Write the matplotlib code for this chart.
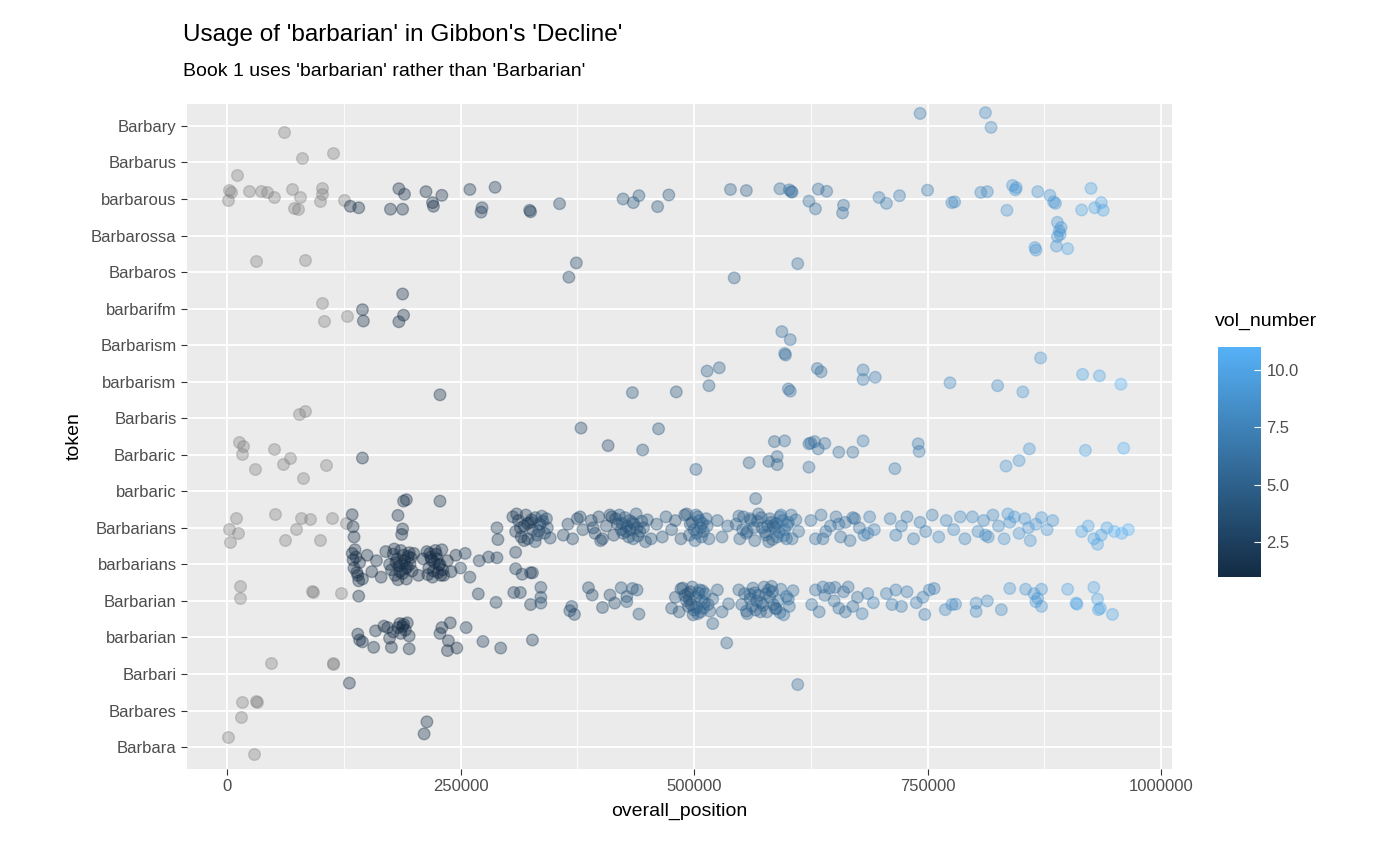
import numpy as np
import matplotlib
matplotlib.use("Agg")
import matplotlib.pyplot as plt
from matplotlib.colors import LinearSegmentedColormap, Normalize

plt.rcParams['font.family'] = ['Liberation Sans', 'DejaVu Sans']

# tokens, bottom to top
tokens = ["Barbara", "Barbares", "Barbari", "barbarian", "Barbarian", "barbarians",
          "Barbarians", "barbaric", "Barbaric", "Barbaris", "barbarism", "Barbarism",
          "barbarifm", "Barbaros", "Barbarossa", "barbarous", "Barbarus", "Barbary"]

# points per token: (overall_position in thousands, vertical jitter)
barbara = [(211, .36), (1, .27), (29, -.18)]
barbares = [(16, .22), (31, .25), (32, .22), (15, -.17), (214, -.31)]
barbari = [(47, .29), (113, .29), (114, .27), (131, -.25), (611, -.29)]
barbarian_lc = [(140, .09), (142, -.07), (145, -.12), (157, -.27), (159, .18), (168, .31), (172, .27),
                (174, -.02), (176, -.27), (183, .27), (186, .11), (189, .36), (193, .4), (195, .04),
                (195, -.31), (228, .11), (230, .27), (237, -.09), (239, .4), (236, -.36), (246, -.29),
                (256, .27), (274, -.11), (293, -.29), (327, -.07), (520, .38), (535, -.15),
                (188, .3), (191, .2), (185, .38), (178, .15)]
barbarian_uc = [(14, .4), (14, .07), (91, .27), (92, .25), (122, .23), (141, .13),
                (269, .19), (288, -.04), (307, .23), (314, .23), (336, .37), (336, .1), (325, -.1),
                (336, -.06), (367, -.27), (372, -.37), (369, -.15), (387, .36), (391, .16), (402, -.18),
                (410, .16), (415, -.06), (422, .36), (428, -.02), (434, .34), (439, .3), (441, -.36),
                (428, .12),
                (476, -.2), (480, .1), (484, -.3), (488, .35), (492, 0), (494, -.15), (496, .25),
                (498, .38), (500, -.25), (502, .1), (504, -.35), (506, .3), (508, 0), (510, -.2),
                (512, .2), (515, -.1), (520, .05), (525, .3), (530, -.3), (537, -.08), (490, .15),
                (499, -.38), (505, .22), (511, -.05), (486, .33), (517, -.28),
                (493, .2), (497, -.1), (503, -.18), (509, .28), (495, .05), (507, -.3),
                (548, .3), (551, -.1), (554, .2), (557, -.35), (560, .05), (563, .35), (566, -.25),
                (569, .15), (572, -.05), (575, .38), (578, -.3), (581, .1), (584, .25), (587, -.2),
                (590, 0), (593, .32), (596, -.38), (599, .12), (602, -.15), (606, .28), (556, -.28),
                (565, .22), (574, -.12), (583, .4), (592, -.32), (601, .05), (560, .18), (588, -.22),
                (567, .0), (577, .2), (585, -.1), (571, -.3), (580, .3), (562, -.15),
                (626, -.1), (630, .3), (634, -.3), (640, .15), (645, .35), (650, 0), (655, -.2),
                (660, .25), (665, .38), (670, -.15), (675, .1), (680, -.35), (686, .2), (692, -.05),
                (638, .38), (662, -.3), (651, .37),
                (706, .2), (712, -.1), (716, .3), (722, -.15), (728, .25), (738, -.05), (745, .1),
                (752, .3), (747, -.37), (757, .34),
                (769, -.24), (776, -.1), (780, -.09), (802, -.06), (802, -.29), (814, 0), (829, -.24),
                (838, .34), (855, .32), (864, .2), (866, -.02), (868, .07), (872, -.15), (872, .32),
                (900, .32), (909, -.06), (910, -.09), (928, .37), (932, .05), (933, -.24), (935, -.2),
                (948, -.37)]
barbarians_lc = [(134, .3), (136, -.1), (138, .2), (140, -.3), (142, .05), (145, -.4), (150, .25),
                 (155, -.2), (160, .1), (165, -.35), (170, .35), (174, 0), (176, -.15), (178, .28),
                 (180, -.3), (182, .15), (184, -.05), (186, .38), (188, -.25), (190, .1), (192, -.4),
                 (194, .22), (196, 0), (198, -.18), (200, .3), (205, -.3), (210, .15), (214, .35),
                 (216, -.1), (218, .2), (220, -.35), (222, .05), (224, .28), (226, -.22), (228, 0),
                 (230, .4), (232, -.3), (236, .1), (240, -.2), (245, .25), (250, -.1), (255, .3),
                 (260, -.35), (270, .1), (280, .2), (137, .4), (141, -.45), (179, .42), (183, -.42),
                 (187, .02), (191, -.12), (195, .32), (215, -.28), (219, .12), (223, .38),
                 (227, -.02), (231, -.15), (289, .18), (309, .33), (309, -.12), (316, -.27),
                 (325, -.23), (327, -.23),
                 (135, .12), (139, -.22), (181, .05), (185, -.2), (189, .25), (193, -.08),
                 (197, .18), (217, .3), (221, -.18), (225, .15), (229, -.3)]
barbarians_uc = [(10, .27), (2, -.03), (12, -.14), (3, -.39), (51, .39), (62, -.32), (74, -.03),
                 (79, .27), (89, .25), (100, -.33), (112, .27), (127, .14), (134, .36), (135, .03),
                 (136, -.25), (183, .34), (188, -.03), (187, -.18), (289, 0), (290, -.32),
                 (306, .3), (309, -.1), (312, .2), (315, -.25), (318, .05), (320, .35), (322, -.3),
                 (325, .15), (327, -.05), (330, .28), (332, -.2), (335, .1), (337, .32), (340, -.15),
                 (343, 0), (346, -.28), (310, .38), (318, -.35), (326, .22), (334, -.08), (342, .25),
                 (314, 0), (322, .12), (330, -.38), (338, .18),
                 (360, -.2), (365, .1), (370, -.3), (375, .25), (381, -.05), (378, .3),
                 (390, .2), (394, -.15), (398, .3), (402, -.3), (406, .05), (410, .35), (414, -.2),
                 (418, .1), (422, -.05), (426, .28), (430, -.25), (434, .15), (438, .38), (442, -.1),
                 (446, 0), (450, .22), (454, -.3), (400, -.35), (412, .3), (424, -.15), (436, .1),
                 (448, -.38), (416, .25), (428, .05), (440, -.22), (392, 0), (420, .35), (444, .18),
                 (427, -.1), (431, .2), (435, -.3), (423, .12), (439, 0), (432, -.05),
                 (460, .1), (466, -.25), (470, .3), (476, -.05), (480, .2), (486, -.3), (490, .35),
                 (492, .38), (495, -.2), (498, .15), (501, -.35), (504, .3), (507, 0), (510, -.1),
                 (513, .25), (516, -.3), (496, .1), (502, .35), (508, -.25), (514, .05), (500, -.05),
                 (506, .2), (525, .2), (530, -.25), (536, .05), (503, -.15), (509, .12),
                 (545, .1), (549, -.3), (553, .3), (557, -.1), (561, .2), (565, -.35), (569, .38),
                 (573, 0), (577, -.2), (581, .25), (585, .05), (589, -.25), (593, .35), (597, -.05),
                 (601, .15), (605, -.3), (609, .22), (612, -.1), (548, .32), (556, -.15), (564, 0),
                 (572, .28), (580, -.38), (588, .12), (596, -.22), (604, .35), (552, -.05),
                 (568, .18), (584, -.32), (600, .08), (560, .25), (576, -.12), (592, .3),
                 (587, .0), (591, -.12), (595, .2), (599, -.3), (583, .15), (579, .05),
                 (625, .2), (630, -.3), (636, .35), (641, -.1), (646, .05), (652, .3), (657, -.25),
                 (662, .15), (667, -.35), (672, .25), (677, 0), (682, -.2), (688, .3), (693, -.05),
                 (638, -.3), (655, .1), (670, .28), (686, -.15),
                 (710, .25), (716, -.2), (722, .05), (728, .3), (735, -.3), (742, .15), (748, -.1),
                 (755, .35), (762, -.25), (770, .2), (778, -.05), (785, .3), (790, -.3),
                 (798, .3), (804, -.1), (810, .2), (815, -.25), (820, .35), (826, .05), (832, -.3),
                 (838, .15), (843, .3), (848, -.15), (854, .25), (860, -.35), (866, .1), (872, .28),
                 (878, -.05), (884, .2), (812, -.2), (836, .38), (858, 0),
                 (915, -.1), (922, .05), (928, -.3), (932, -.45), (936, -.2), (942, 0), (950, -.1),
                 (958, -.15), (965, -.05)]
barbaric_lc = [(81, .36), (566, -.2), (189, -.27), (192, -.23), (228, -.27)]
barbaric_uc = [(13, .36), (17, .23), (16, .02), (50, .15), (30, -.38), (60, -.25), (67, -.09),
               (106, -.27), (145, -.09), (408, .25), (445, .13), (502, -.4), (559, -.22), (580, -.18),
               (589, -.05), (589, -.27), (586, .36), (597, .38), (623, .3), (625, .32), (629, .36),
               (633, .16), (640, .31), (623, -.34), (655, .07), (670, .07), (681, .38), (715, -.38),
               (740, .3), (741, .09), (834, -.31), (848, -.16), (859, .16), (919, .12), (960, .18)]
barbaris = [(77, .11), (84, .2), (379, -.27), (462, -.29)]
barbarism_lc = [(228, -.36), (434, -.3), (481, -.28), (514, .29), (527, .38), (516, -.11), (601, -.2),
                (603, -.26), (632, .36), (636, .27), (681, .32), (681, .06), (694, .12), (774, -.03),
                (825, -.11), (852, -.28), (916, .2), (934, .16), (957, -.07)]
barbarism_uc = [(594, .37), (603, .15), (597, -.23), (598, -.27), (871, -.35)]
barbarifm = [(102, .15), (104, -.34), (128, -.2), (145, -.03), (146, -.34), (188, .4), (189, -.18),
             (184, -.36)]
barbaros = [(31, .29), (84, .32), (374, .25), (366, -.14), (611, .23), (543, -.16)]
barbarossa = [(889, .36), (893, .22), (891, .13), (889, -.03), (892, .03), (865, -.33), (866, -.4),
              (888, -.29), (900, -.36)]
barbarous = [(2, .25), (4, .2), (1, -.02), (11, .65), (24, .22), (36, .22), (43, .2), (50, .05),
             (70, .27), (72, -.24), (76, -.28), (78, .05), (100, -.06), (102, .13), (102, .3),
             (125, -.04), (132, -.2), (141, -.24), (175, -.28), (184, .28), (188, -.28), (190, .13),
             (213, .2), (220, -.1), (221, -.2), (230, .1), (260, .26), (273, -.24), (272, -.36),
             (287, .32), (324, -.31), (325, -.35), (356, -.13), (424, 0), (435, -.1), (441, .09),
             (461, -.21), (473, .11), (539, .26), (556, .23), (592, .28), (602, .25), (604, .2),
             (605, .19), (623, -.06), (630, -.27), (633, .27), (642, .21), (659, -.38), (660, -.17),
             (698, .04), (706, -.12), (720, .09), (750, .24), (776, -.1), (779, -.08), (807, .18),
             (814, .2), (835, -.31), (841, .37), (844, .25), (845, .31), (868, .2), (881, .1),
             (885, -.08), (887, -.12), (915, -.3), (925, .29), (929, -.24), (936, -.1), (938, -.31)]
barbarus = [(80, .12), (114, .27)]
barbary = [(61, -.16), (742, .34), (812, .36), (818, -.04)]

token_points = [barbara, barbares, barbari, barbarian_lc, barbarian_uc, barbarians_lc,
                barbarians_uc, barbaric_lc, barbaric_uc, barbaris, barbarism_lc, barbarism_uc,
                barbarifm, barbaros, barbarossa, barbarous, barbarus, barbary]

# approximate start position (thousands) of volumes 1..11; earlier text has no volume
vol_starts = [130, 250, 330, 420, 500, 590, 680, 760, 830, 900, 950]

xs, ys = [], []
for i, pts in enumerate(token_points):
    for px, dy in pts:
        xs.append(px * 1000)
        ys.append(i + 1 + dy)
xs = np.array(xs)
ys = np.array(ys)
vols = np.searchsorted(np.array(vol_starts) * 1000, xs, side='right').astype(float)

cmap = LinearSegmentedColormap.from_list("gg", ["#132B43", "#56B1F7"])
norm = Normalize(1, 11)

fig = plt.figure(figsize=(14, 8.65), dpi=100)
ax = fig.add_axes([0.1336, 0.111, 0.7036, 0.7688])
ax.set_facecolor("#EBEBEB")
for s in ax.spines.values():
    s.set_visible(False)

ax.set_xlim(-42800, 1011800)
ax.set_ylim(0.4, len(tokens) + 0.6)
ax.set_xticks([0, 250000, 500000, 750000, 1000000])
ax.set_xticklabels(["0", "250000", "500000", "750000", "1000000"])
ax.set_xticks([125000, 375000, 625000, 875000], minor=True)
ax.set_yticks(np.arange(1, len(tokens) + 1))
ax.set_yticklabels(tokens)
ax.grid(True, which='major', color='white', lw=1.3)
ax.grid(True, which='minor', axis='x', color='white', lw=0.6)
ax.set_axisbelow(True)
ax.tick_params(which='major', colors='#333333', labelcolor='#4D4D4D', labelsize=12, length=4)
ax.tick_params(which='minor', length=0)

na = vols == 0
ax.scatter(xs[na], ys[na], s=70, color='#7F7F7F', alpha=0.35, linewidths=1)
sc = ax.scatter(xs[~na], ys[~na], s=70, c=vols[~na], cmap=cmap, norm=norm, alpha=0.35,
                linewidths=1)

ax.set_xlabel("overall_position", fontsize=14, labelpad=6)
ax.set_ylabel("token", fontsize=14, labelpad=6)

fig.text(0.131, 0.96, "Usage of 'barbarian' in Gibbon's 'Decline'", fontsize=17.5, va='center')
fig.text(0.131, 0.917, "Book 1 uses 'barbarian' rather than 'Barbarian'", fontsize=14, va='center')

cax = fig.add_axes([0.87, 0.333, 0.031, 0.266])
cb = fig.colorbar(plt.cm.ScalarMappable(norm=norm, cmap=cmap), cax=cax)
cb.outline.set_visible(False)
cb.set_ticks([2.5, 5.0, 7.5, 10.0])
cb.ax.tick_params(labelsize=12, labelcolor='#4D4D4D', color='white', length=5, direction='in')
fig.text(0.868, 0.628, "vol_number", fontsize=14, va='center')

fig.savefig("out.png", dpi=100)
